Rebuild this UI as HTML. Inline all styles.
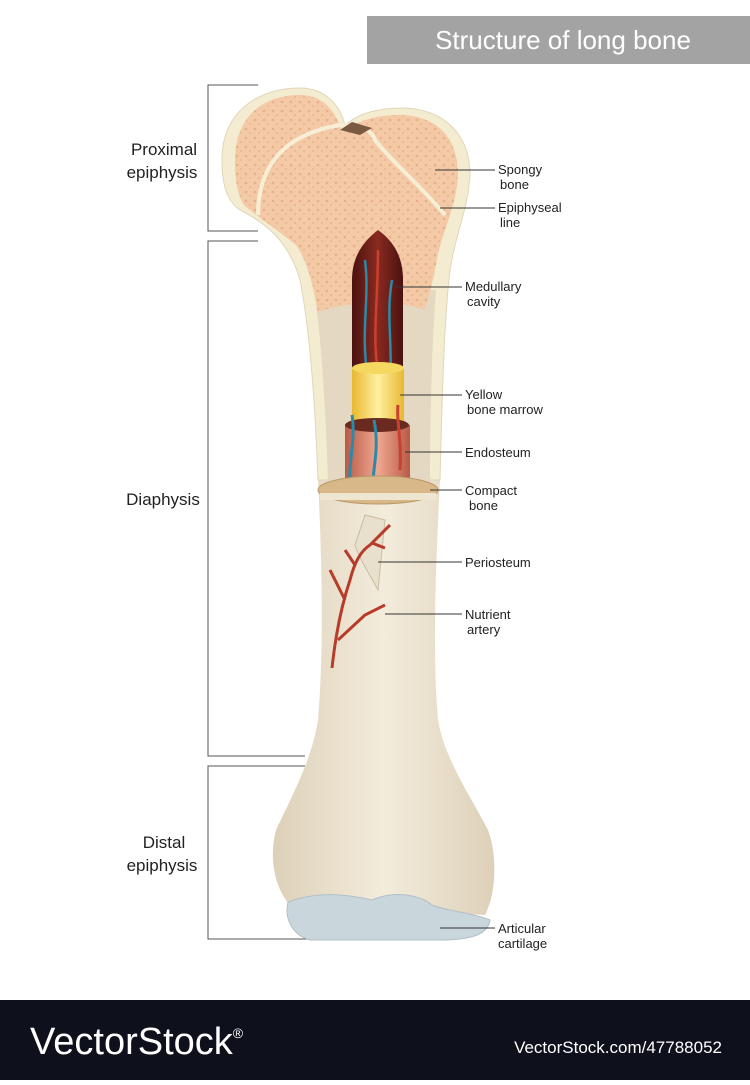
<!DOCTYPE html>
<html><head><meta charset="utf-8"><style>
body{margin:0;background:#fff;width:750px;height:1080px;overflow:hidden;font-family:"Liberation Sans",sans-serif}
</style></head><body>
<svg width="750" height="1080" xmlns="http://www.w3.org/2000/svg" font-family="Liberation Sans, sans-serif">
<defs>
<pattern id="dots" width="9" height="9" patternUnits="userSpaceOnUse">
<rect width="9" height="9" fill="#f4c9a6"/><circle cx="3" cy="3" r="1.3" fill="#e6b08c"/><circle cx="7" cy="7" r="1" fill="#e8b592"/>
</pattern>
<linearGradient id="shaft" x1="0" x2="1"><stop offset="0" stop-color="#ddd0b8"/><stop offset="0.5" stop-color="#f3ecdc"/><stop offset="1" stop-color="#ddd0b8"/></linearGradient>
<linearGradient id="cav" x1="0" x2="1"><stop offset="0" stop-color="#4a1210"/><stop offset="0.5" stop-color="#8a2a20"/><stop offset="1" stop-color="#4a1210"/></linearGradient>
<linearGradient id="yel" x1="0" x2="1"><stop offset="0" stop-color="#e8b830"/><stop offset="0.5" stop-color="#fff0a0"/><stop offset="1" stop-color="#e8b830"/></linearGradient>
<linearGradient id="endo" x1="0" x2="1"><stop offset="0" stop-color="#b85a48"/><stop offset="0.5" stop-color="#f0a890"/><stop offset="1" stop-color="#b85a48"/></linearGradient>
</defs>
<rect x="367" y="16" width="383" height="48" fill="#a3a3a3"/>
<text x="563" y="49" fill="#fff" font-size="26" text-anchor="middle">Structure of long bone</text>

<g stroke="#555" fill="none" stroke-width="1">
<path d="M258 85H208V231H258"/>
<path d="M258 241H208V756H305"/>
<path d="M305 766H208V939H310"/>
</g>
<g font-size="17" fill="#222" text-anchor="middle">
<text x="164" y="155">Proximal</text><text x="162" y="178">epiphysis</text>
<text x="163" y="505">Diaphysis</text>
<text x="164" y="848">Distal</text><text x="162" y="871">epiphysis</text>
</g>

<!-- lower shaft and distal -->
<path d="M318 480 C322 560 324 650 318 720 C312 760 290 800 276 830 C268 860 276 890 290 905 L485 915 C498 890 496 850 488 830 C470 795 445 760 438 720 C432 650 436 560 440 480Z" fill="url(#shaft)"/>
<path d="M288 902 C320 890 350 895 372 900 C395 890 420 895 432 905 C450 912 470 912 490 920 C488 935 470 940 440 940 L310 940 C292 935 284 918 288 902Z" fill="#c9d6dc" stroke="#b0c0c8"/>
<!-- proximal head -->
<path d="M222 160 C222 110 260 88 300 88 C325 88 340 105 345 125 C360 112 380 108 405 108 C445 110 470 135 470 175 C468 210 455 235 450 270 C444 320 442 400 440 480 L318 480 C315 400 310 330 300 280 C290 245 270 225 240 210 C225 200 222 180 222 160Z" fill="#f4ecd0" stroke="#e0d6ba"/>
<path d="M314 290 C322 340 326 420 328 482 L430 482 C430 420 432 340 436 290Z" fill="#e4d8c2"/>
<path d="M235 160 C235 115 265 95 300 95 C322 95 336 110 342 132 C358 120 380 114 405 115 C440 118 458 140 458 175 C456 210 440 235 436 265 C432 285 428 300 424 310 C400 300 350 300 318 312 C314 290 308 262 296 245 C275 228 255 215 244 205 C237 195 235 178 235 160Z" fill="url(#dots)"/>
<path d="M258 215 C258 170 280 135 340 125 C360 125 372 130 375 140 C390 160 425 190 445 215" fill="none" stroke="#f6efd6" stroke-width="4"/>
<path d="M340 130 L352 122 L372 128 L360 135Z" fill="#7a5a40"/>
<!-- cavity -->
<path d="M352 370 L352 280 C352 255 365 240 378 230 C392 240 403 255 403 280 L403 370Z" fill="url(#cav)"/>
<g fill="none" stroke-width="2.5">
<path d="M365 260 C370 300 360 330 368 380" stroke="#2a8aa8"/>
<path d="M392 280 C385 320 395 350 388 400" stroke="#2a8aa8"/>
<path d="M378 250 C378 300 372 340 378 370" stroke="#c84030"/>
</g>
<rect x="352" y="368" width="52" height="56" fill="url(#yel)"/>
<ellipse cx="378" cy="368" rx="26" ry="6" fill="#f5d860"/>
<path d="M345 425 L345 478 L410 478 L410 425Z" fill="url(#endo)"/>
<ellipse cx="377" cy="425" rx="32" ry="7" fill="#6a2a20"/>
<g fill="none" stroke-width="3">
<path d="M350 490 C348 460 356 440 352 415" stroke="#2a8aa8"/>
<path d="M372 495 C372 470 380 450 374 420" stroke="#2a8aa8"/>
<path d="M400 470 C402 440 396 420 398 405" stroke="#c84030"/>
</g>
<ellipse cx="378" cy="490" rx="60" ry="14" fill="#d8b888" stroke="#b89868"/>
<path d="M320 493 L436 493 L436 500 L320 500Z" fill="#efe6d2"/>
<path d="M365 515 L385 520 L378 590 C370 575 360 560 355 545Z" fill="#e8e0cc" stroke="#c8bca0"/>
<g fill="none" stroke="#b83a28" stroke-width="3">
<path d="M332 668 C335 640 340 610 350 580 C355 560 362 550 370 545 L390 525"/>
<path d="M338 640 L365 615 L385 605"/><path d="M345 600 L330 570"/><path d="M355 565 L345 550"/><path d="M372 543 L385 548"/>
</g>

<!-- labels -->
<g stroke="#333" stroke-width="1">
<line x1="435" y1="170" x2="495" y2="170"/>
<line x1="440" y1="208" x2="495" y2="208"/>
<line x1="395" y1="287" x2="462" y2="287"/>
<line x1="400" y1="395" x2="462" y2="395"/>
<line x1="405" y1="452" x2="462" y2="452"/>
<line x1="430" y1="490" x2="462" y2="490"/>
<line x1="378" y1="562" x2="462" y2="562"/>
<line x1="385" y1="614" x2="462" y2="614"/>
<line x1="440" y1="928" x2="495" y2="928"/>
</g>
<g font-size="13" fill="#222">
<text x="498" y="174">Spongy</text><text x="500" y="189">bone</text>
<text x="498" y="212">Epiphyseal</text><text x="500" y="227">line</text>
<text x="465" y="291">Medullary</text><text x="467" y="306">cavity</text>
<text x="465" y="399">Yellow</text><text x="467" y="414">bone marrow</text>
<text x="465" y="457">Endosteum</text>
<text x="465" y="495">Compact</text><text x="469" y="510">bone</text>
<text x="465" y="567">Periosteum</text>
<text x="465" y="619">Nutrient</text><text x="467" y="634">artery</text>
<text x="498" y="933">Articular</text><text x="498" y="948">cartilage</text>
</g>

<rect x="0" y="1000" width="750" height="80" fill="#0e101c"/>
<text x="30" y="1054" fill="#fff" font-size="38">VectorStock<tspan font-size="14" dy="-16">®</tspan></text>
<text x="722" y="1053" fill="#fff" font-size="17" text-anchor="end">VectorStock.com/47788052</text>
</svg>
</body></html>
